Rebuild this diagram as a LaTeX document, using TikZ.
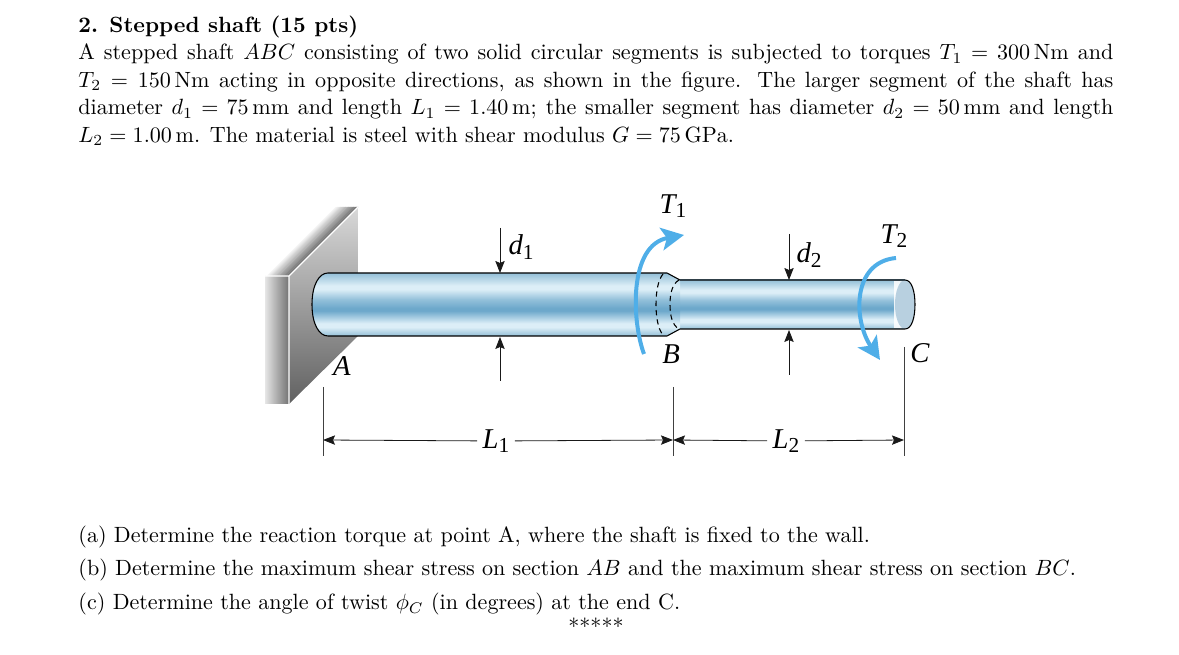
\documentclass[tikz,border=0pt]{standalone}
\usepackage{amsmath,amssymb}
\usepackage{fontspec}
\newfontfamily\figfont{Liberation Serif}
\usetikzlibrary{arrows.meta}
\definecolor{shaftedge}{HTML}{93BFD7}
\definecolor{shaftlight}{HTML}{DCEEF7}
\definecolor{shaftmid}{HTML}{93C0DA}
\definecolor{shaftdark}{HTML}{6DA8CB}
\definecolor{torqueblue}{HTML}{4FAEE8}
\definecolor{endface}{HTML}{B8D0E0}
\pgfdeclareverticalshading{shaftband}{100bp}{color(0bp)=(shaftedge); color(25bp)=(shaftedge); color(32bp)=(shaftlight); color(35bp)=(shaftlight); color(45bp)=(shaftdark); color(47bp)=(shaftdark); color(54bp)=(shaftmid); color(62bp)=(shaftlight); color(65bp)=(shaftlight); color(75bp)=(shaftedge); color(100bp)=(shaftedge)}
\newcommand{\figlab}[2]{{\figfont\itshape #1}\raisebox{-0.35ex}{\fontsize{16}{16}\selectfont\figfont #2}}
\tikzset{
  stemtext/.style={scale=1.655,inner sep=0pt,anchor=base west},
  figlabel/.style={inner sep=1pt,font=\fontsize{21.5}{21.5}\selectfont},
  dimline/.style={black!90,line width=0.6pt,-{Stealth[length=9pt,width=7pt,inset=1.5pt]}},
  extline/.style={black!75,line width=0.6pt},
  torque/.style={torqueblue,line width=3pt,-{Stealth[length=17pt,width=17pt,inset=4pt]}},
  shaftline/.style={black,line width=0.8pt}
}
\begin{document}
\begin{tikzpicture}[x=0.75pt,y=0.75pt,yscale=-1,xscale=1]
\useasboundingbox (0,0) rectangle (1179,655);

% Text Node
\node[stemtext] (head) at (78,33) {\textbf{2. Stepped shaft (15 pts)}};
\node[inner sep=0pt,anchor=north west,scale=1.655] (stem) at (78,43.5) {\parbox{469pt}{\baselineskip=12.52pt
A stepped shaft $ABC$ consisting of two solid circular segments is subjected to torques $T_1=300\,\mathrm{Nm}$ and $T_2=150\,\mathrm{Nm}$ acting in opposite directions, as shown in the figure. The larger segment of the shaft has diameter $d_1=75\,\mathrm{mm}$ and length $L_1=1.40\,\mathrm{m}$; the smaller segment has diameter $d_2=50\,\mathrm{mm}$ and length $L_2=1.00\,\mathrm{m}$. The material is steel with shear modulus $G=75\,\mathrm{GPa}$.}};
\node[stemtext] (parta) at (78,543) {(a) Determine the reaction torque at point A, where the shaft is fixed to the wall.};
\node[stemtext] (partb) at (78,575.5) {(b) Determine the maximum shear stress on section $AB$ and the maximum shear stress on section $BC$.};
\node[stemtext] (partc) at (78,610) {(c) Determine the angle of twist $\phi_C$ (in degrees) at the end C.};
\node[stemtext,anchor=base] (stars) at (596,635) {*****};

%Shape: Wall side
\shade[left color=black!10,right color=black!55] (265,276) -- (289,276) -- (289,404) -- (265,404) -- cycle;
%Shape: Wall top
\foreach \i in {0,...,14}
  \fill[black!\the\numexpr\i*4\relax] (265+\i*1.6,276) -- (334+\i*1.6,207) -- (336+\i*1.6,207) -- (267+\i*1.6,276) -- cycle;
%Shape: Wall front
\shade[top color=black!15,bottom color=black!62] (289,276) -- (358,207) -- (358,336) -- (289,404) -- cycle;
\draw[white,line width=0.8pt] (265,276) -- (289,276) -- (358,207) (289,276) -- (289,404);

%Shape: Large segment
\shade[shading=shaftband] (667,273) -- (328,273) .. controls (319,273) and (312,285) .. (312,304.5) .. controls (312,324) and (319,336) .. (328,336) -- (667,336) -- cycle;
%Shape: Small segment
\shade[shading=shaftband] (680,280) -- (905,280) -- (905,329) -- (680,329) -- cycle;
\shade[shading=shaftband] (667,273) -- (680,280) -- (680,329) -- (667,336) -- cycle;
\fill[white,opacity=0.85] (894,281) -- (905,281) -- (905,328) -- (894,328) -- cycle;
\fill[endface] (905,280) .. controls (912,280) and (915,292) .. (915,304.5) .. controls (915,317) and (912,329) .. (905,329) .. controls (899,329) and (895,317) .. (895,304.5) .. controls (895,292) and (899,280) .. (905,280) -- cycle;
\draw[shaftline] (667,273) -- (328,273) .. controls (319,273) and (312,285) .. (312,304.5) .. controls (312,324) and (319,336) .. (328,336) -- (667,336) -- (680,329) -- (905,329) .. controls (912,329) and (915,317) .. (915,304.5) .. controls (915,292) and (912,280) .. (905,280) -- (680,280) -- cycle;
\draw[shaftline,dash pattern=on 4pt off 3pt] (663,274) .. controls (658,280) and (656,292) .. (656,304.5) .. controls (656,317) and (658,329) .. (663,335);
\draw[shaftline,dash pattern=on 4pt off 3pt] (679,280) .. controls (672,284) and (670,294) .. (670,304.5) .. controls (670,315) and (672,325) .. (679,329);

% Torques
\draw[torque] (644,354) .. controls (632,322) and (628,245) .. (684,235);
\draw[torque] (896,258) .. controls (852,262) and (853,320) .. (880,360);

% Text Node
\node[figlabel] (A) at (342,368) {\figlab{A}{}};
\node[figlabel] (B) at (671,356) {\figlab{B}{}};
\node[figlabel] (C) at (920,355) {\figlab{C}{}};
\node[figlabel] (d1) at (521,247) {\figlab{d}{1}};
\node[figlabel] (d2) at (809,255) {\figlab{d}{2}};
\node[figlabel] (T1) at (673,206) {\figlab{T}{1}};
\node[figlabel] (T2) at (894,236) {\figlab{T}{2}};
\node[figlabel,inner sep=4pt] (L1) at (496,441) {\figlab{L}{1}};
\node[figlabel,inner sep=4pt] (L2) at (786,441) {\figlab{L}{2}};

% Dimension ends
\coordinate (wallA) at (323,440);
\coordinate (stepB) at (673,440);
\coordinate (endC) at (904,440);
\coordinate (d1topin) at (500,273);
\coordinate (d1topout) at (500,228);
\coordinate (d1botin) at (500,337);
\coordinate (d1botout) at (500,381);
\coordinate (d2topin) at (789,280);
\coordinate (d2topout) at (789,234);
\coordinate (d2botin) at (789,330);
\coordinate (d2botout) at (789,375);
\coordinate (wallAup) at (323,387);
\coordinate (wallAdn) at (323,456);
\coordinate (stepBup) at (673,387);
\coordinate (stepBdn) at (673,456);
\coordinate (endCup) at (904,347);
\coordinate (endCdn) at (904,456);
\draw[dimline] (L1) -- (wallA);
\draw[dimline] (L1) -- (stepB);
\draw[dimline] (L2) -- (stepB);
\draw[dimline] (L2) -- (endC);
\draw[dimline] (d1topout) -- (d1topin);
\draw[dimline] (d1botout) -- (d1botin);
\draw[dimline] (d2topout) -- (d2topin);
\draw[dimline] (d2botout) -- (d2botin);
\draw[extline] (wallAup) -- (wallAdn);
\draw[extline] (stepBup) -- (stepBdn);
\draw[extline] (endCup) -- (endCdn);
\end{tikzpicture}
\end{document}
